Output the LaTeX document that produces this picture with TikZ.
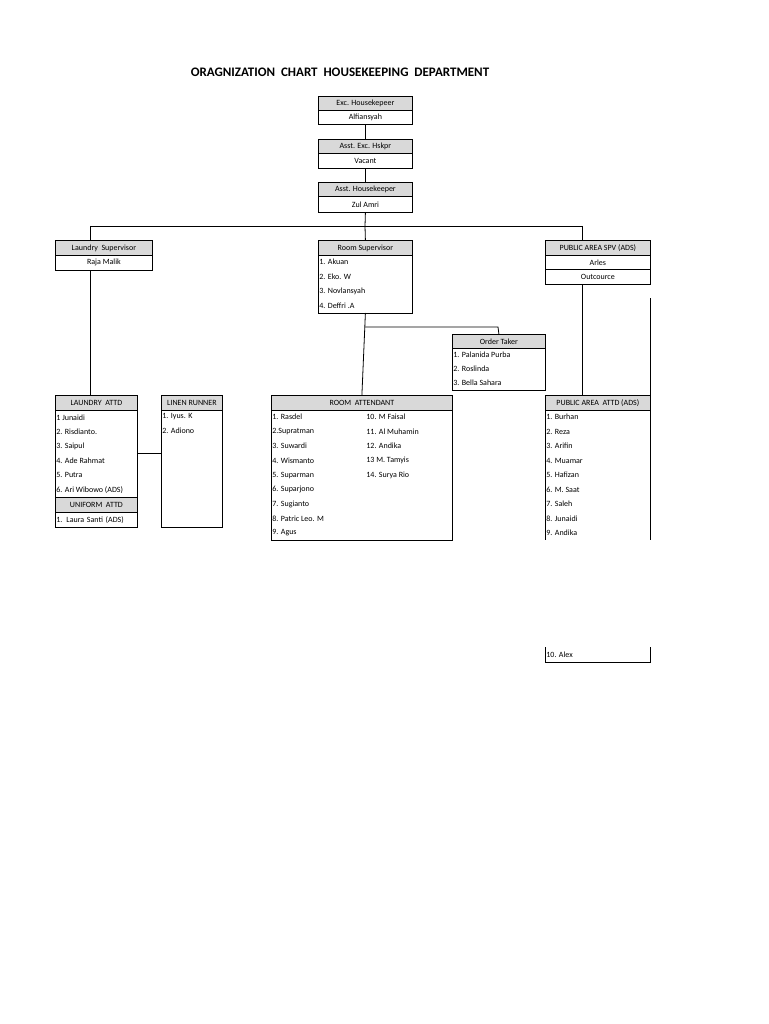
\documentclass[tikz,border=0pt]{standalone}
\usepackage{fontspec}
\setmainfont{Carlito}
\begin{document}
\begin{tikzpicture}[x=1pt,y=-1pt,line width=0.8pt,
  hd/.style={draw,fill=gray!30,inner sep=0pt,anchor=north west,font=\fontsize{8}{9}\selectfont},
  cell/.style={draw,inner sep=0pt,anchor=north west,font=\fontsize{8}{9}\selectfont},
  txt/.style={anchor=west,inner sep=1pt,font=\fontsize{8}{9}\selectfont}]
\useasboundingbox (0,0) rectangle (768,1024);
\node[font=\bfseries\fontsize{13}{15}\selectfont] (title) at (340,72) {ORAGNIZATION\ \ CHART\ \ HOUSEKEEPING\ \ DEPARTMENT};
% top chain
\node[hd,minimum width=94,minimum height=14] (e1) at (318,96) {Exc. Housekepeer};
\node[cell,minimum width=94,minimum height=14] (e2) at (318,110) {Alfiansyah};
\node[hd,minimum width=94,minimum height=14] (a1) at (318,139) {Asst. Exc. Hskpr};
\node[cell,minimum width=94,minimum height=15] (a2) at (318,153) {Vacant};
\node[hd,minimum width=94,minimum height=14] (h1) at (318,182) {Asst. Housekeeper};
\node[cell,minimum width=94,minimum height=16] (h2) at (318,196) {Zul Amri};
\draw (e2.south) -- (a1.north);
\draw (a2.south) -- (h1.north);
\coordinate (bus) at (365,226);
\draw (h2.south) -- (bus);
\draw (90,226) -- (582,226);
% laundry supervisor
\node[hd,minimum width=97,minimum height=15] (ls) at (55,240) {Laundry\ \ Supervisor};
\node[cell,minimum width=97,minimum height=15] (ls2) at (55,255) {Raja Malik};
\draw (90,226) -- (90,240);
% room supervisor
\node[hd,minimum width=94,minimum height=15] (rs) at (318,240) {Room Supervisor};
\draw (318,255) rectangle (412,313);
\node[txt] (rs1) at (318,262) {1. Akuan};
\node[txt] (rs2) at (318,277) {2. Eko. W};
\node[txt] (rs3) at (318,291) {3. Novlansyah};
\node[txt] (rs4) at (318,306) {4. Deffri .A};
\draw (bus) -- (rs.north);
% PA spv
\node[hd,minimum width=105,minimum height=15] (ps) at (545,240) {PUBLIC AREA SPV (ADS)};
\node[cell,minimum width=105,minimum height=14] (ps2) at (545,255) {Arles};
\node[cell,minimum width=105,minimum height=15] (ps3) at (545,269) {Outcource};
\draw (582,226) -- (582,240);
% order taker
\node[hd,minimum width=93,minimum height=14] (ot) at (452,334) {Order Taker};
\draw (452,348) rectangle (545,390);
\node[txt] (ot1) at (452,355) {1. Palanida Purba};
\node[txt] (ot2) at (452,369) {2. Roslinda};
\node[txt] (ot3) at (452,383) {3. Bella Sahara};
% laundry attd
\node[hd,minimum width=82,minimum height=15] (la) at (55,395) {LAUNDRY\ \ ATTD};
\draw (55,410) rectangle (137,497);
\foreach \t [count=\i] in {1 Junaidi,2. Risdianto.,3. Saipul,4. Ade Rahmat,5. Putra,6. Ari Wibowo (ADS)}
  \node[txt] (la\i) at (55,{410+14.5*\i-7.2}) {\t};
\node[hd,minimum width=82,minimum height=15] (ua) at (55,497) {UNIFORM\ \ ATTD};
\node[cell,minimum width=82,minimum height=15,text width=80,align=left,inner xsep=1pt] (ua1) at (55,512) {1. Laura Santi (ADS)};
% linen runner
\node[hd,minimum width=61,minimum height=15] (lr) at (161,395) {LINEN RUNNER};
\draw (161,410) rectangle (222,527);
\node[txt] (lr1) at (161,417) {1. Iyus. K};
\node[txt] (lr2) at (161,431) {2. Adiono};
\draw (137,453) -- (161,453);
\draw (ls2.south -| 90,0) -- (la.north -| 90,0);
% room attendant
\node[hd,minimum width=181,minimum height=15] (ra) at (271,395) {ROOM\ \ ATTENDANT};
\draw (271,410) rectangle (452,540);
\foreach \t [count=\i] in {1. Rasdel,2.Supratman,3. Suwardi,4. Wismanto,5. Suparman,6. Suparjono,7. Sugianto,8. Patric Leo. M,9. Agus}
  \node[txt] (ra\i) at (271,{410+14.45*\i-7.2}) {\t};
\foreach \t [count=\i] in {10. M Faisal,11. Al Muhamin,12. Andika,13 M. Tamyis,14. Surya Rio}
  \node[txt] (rb\i) at (365,{410+14.45*\i-7.2}) {\t};
\draw (rs.south |- 0,313) -- (ra.north);
\draw (365,327) -- (498,327) -- (ot.north);
% PA attd
\node[hd,minimum width=105,minimum height=15] (pa) at (545,395) {PUBLIC AREA\ \ ATTD (ADS)};
\draw (545,410) -- (545,540);
\draw (650,298) -- (650,540);
\foreach \t [count=\i] in {1. Burhan,2. Reza,3. Arifin,4. Muamar,5. Hafizan,6. M. Saat,7. Saleh,8. Junaidi,9. Andika}
  \node[txt] (pa\i) at (545,{410+14.45*\i-7.2}) {\t};
\draw (582,284) -- (pa.north -| 582,0);
\draw (545,647) -- (545,662) -- (650,662) -- (650,647);
\node[txt] (pa10) at (545,655) {10. Alex};
\end{tikzpicture}
\end{document}
